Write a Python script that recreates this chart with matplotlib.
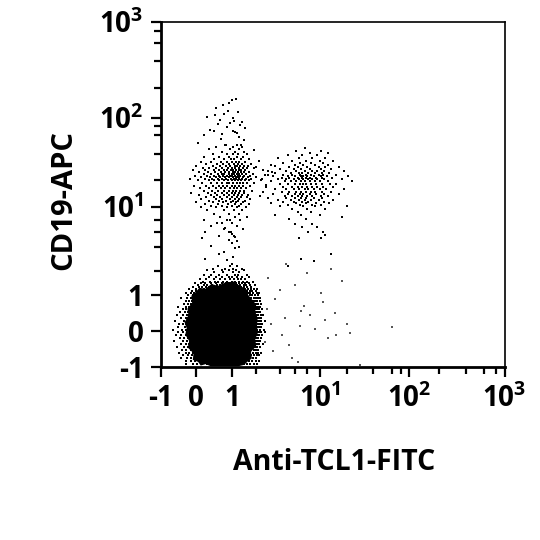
import numpy as np
import matplotlib
matplotlib.use("Agg")
import matplotlib.pyplot as plt

plt.rcParams["font.family"] = ["Open Sans", "DejaVu Sans"]
plt.rcParams["mathtext.fontset"] = "custom"
plt.rcParams["mathtext.bf"] = "Open Sans:bold"
plt.rcParams["mathtext.rm"] = "Open Sans:bold"

# biexponential axis: fluorescence value vs channel along the axis
scale_values = [-1, 0, 1, 2, 4, 6, 8, 10, 20, 40, 60, 80, 100, 200, 400, 600, 800, 1000]
scale_channels = [0, 36, 72, 96, 120, 135, 147, 160, 187, 213, 232, 241, 249, 279, 306, 324, 336, 345]

major_ticks = [-1, 0, 1, 10, 100, 1000]
minor_ticks = [2, 4, 6, 8, 20, 40, 60, 80, 200, 400, 600, 800]
tick_labels = ["-1", "0", "1", r"$\mathbf{10^{1}}$", r"$\mathbf{10^{2}}$", r"$\mathbf{10^{3}}$"]

# solid core of the negative population (outline)
core_x = [0.8, 0.6, 0.42, 0.25, 0.08, -0.02, -0.14, -0.12, -0.25, -0.22, -0.33, -0.27, -0.31, -0.2, -0.24, -0.08, -0.1,
          0.05, 0.12, 0.26, 0.4, 0.8, 1.25, 1.5, 1.62, 1.82, 1.78, 2.0, 1.96, 2.14, 2.06, 2.12, 1.96, 2.0, 1.76, 1.58,
          1.6, 1.32, 1.06]
core_y = [1.52, 1.38, 1.46, 1.26, 1.3, 1.12, 0.98, 0.78, 0.62, 0.44, 0.24, 0.08, -0.1, -0.28, -0.46, -0.62, -0.8,
          -0.86, -0.96, -0.92, -0.98, -0.98, -0.98, -0.94, -0.86, -0.76, -0.58, -0.42, -0.22, -0.05, 0.14, 0.36, 0.54,
          0.74, 0.92, 1.12, 1.24, 1.38, 1.56]

# events are listed row by row: one y value, then the x values seen on that row
# speckle around the core
fringe_rows_y = [2.4, 2.2, 2.05, 1.95, 1.85, 1.75, 1.65, 1.55, 1.48, 1.4, 1.32, 1.24, 1.16, 1.08, 1.0, 0.92, 0.84,
                 0.76, 0.68, 0.6, 0.52, 0.44, 0.36, 0.28, 0.2, 0.12, 0.04, -0.04, -0.12, -0.2, -0.28, -0.36, -0.44,
                 -0.52, -0.6, -0.68, -0.76, -0.84, -0.92]
fringe_rows_x = [
    [0.6, 0.95, 1.2],
    [0.45, 0.8, 1.05, 1.4],
    [0.3, 0.7, 0.9, 1.15, 1.5],
    [0.5, 0.75, 1.02, 1.3],
    [0.2, 0.42, 0.62, 0.85, 1.1, 1.25, 1.6],
    [0.35, 0.55, 0.72, 0.9, 1.0, 1.18, 1.42, 1.7],
    [0.1, 0.28, 0.5, 0.66, 0.8, 0.94, 1.08, 1.22, 1.38, 1.55],
    [0.18, 0.38, 0.52, 0.6, 0.74, 0.86, 0.98, 1.12, 1.28, 1.46, 1.62, 1.85],
    [-0.05, 0.12, 0.25, 0.42, 0.56, 0.7, 0.82, 0.92, 1.04, 1.16, 1.3, 1.4, 1.52, 1.7],
    [0.05, 0.2, 0.3, 0.44, 0.58, 0.66, 0.78, 0.9, 1.0, 1.1, 1.2, 1.34, 1.48, 1.58, 1.74, 1.95],
    [-0.1, 0.08, 0.16, 0.26, 0.36, 0.5, 0.62, 1.14, 1.24, 1.38, 1.5, 1.62, 1.8],
    [-0.2, -0.02, 0.1, 0.2, 0.3, 0.4, 1.3, 1.42, 1.55, 1.66, 1.78, 1.9, 2.1],
    [-0.12, 0.0, 0.08, 0.18, 0.28, 1.4, 1.52, 1.6, 1.72, 1.82, 2.0],
    [-0.3, -0.15, -0.06, 0.02, 0.12, 1.56, 1.66, 1.76, 1.88, 2.05, 2.25],
    [-0.22, -0.1, -0.02, 0.04, 1.6, 1.72, 1.84, 1.94, 2.15],
    [-0.42, -0.25, -0.16, -0.06, 0.0, 1.7, 1.8, 1.9, 2.0, 2.12, 2.35],
    [-0.3, -0.2, -0.12, -0.05, 1.76, 1.86, 1.96, 2.08, 2.28],
    [-0.35, -0.24, -0.16, -0.08, 1.82, 1.92, 2.02, 2.16, 2.42],
    [-0.5, -0.3, -0.2, -0.12, 1.86, 1.96, 2.06, 2.2, 2.34],
    [-0.38, -0.28, -0.18, 1.88, 1.98, 2.1, 2.24, 2.5],
    [-0.46, -0.32, -0.22, 1.9, 2.0, 2.14, 2.3],
    [-0.55, -0.36, -0.26, -0.2, 1.96, 2.04, 2.18, 2.36, 2.6],
    [-0.42, -0.3, -0.22, 1.98, 2.08, 2.22, 2.44],
    [-0.6, -0.34, -0.26, 2.0, 2.1, 2.26, 2.38, 2.7],
    [-0.48, -0.38, -0.28, -0.2, 2.02, 2.12, 2.3, 2.52],
    [-0.52, -0.32, -0.24, 2.0, 2.14, 2.24, 2.42],
    [-0.64, -0.4, -0.3, -0.22, 2.02, 2.1, 2.28, 2.62],
    [-0.5, -0.36, -0.26, 1.98, 2.08, 2.2, 2.36, 2.75],
    [-0.58, -0.42, -0.28, -0.2, 2.0, 2.12, 2.26, 2.48],
    [-0.46, -0.34, -0.24, 1.96, 2.06, 2.18, 2.4],
    [-0.62, -0.38, -0.26, -0.18, 1.9, 2.0, 2.14, 2.3],
    [-0.44, -0.3, -0.2, 1.88, 1.98, 2.1, 2.22, 2.56],
    [-0.54, -0.34, -0.24, -0.14, 1.84, 1.94, 2.08, 2.34],
    [-0.4, -0.28, -0.16, -0.08, 1.8, 1.9, 2.02, 2.18],
    [-0.48, -0.3, -0.2, -0.1, 1.72, 1.86, 1.98, 2.12, 2.4],
    [-0.36, -0.22, -0.12, -0.02, 1.66, 1.78, 1.92, 2.06, 2.26],
    [-0.42, -0.26, -0.14, 0.0, 0.1, 1.5, 1.62, 1.74, 1.88, 2.02],
    [-0.3, -0.16, -0.04, 0.08, 0.2, 1.42, 1.56, 1.7, 1.84, 2.0, 2.2],
    [-0.28, -0.1, 0.02, 0.16, 0.3, 0.42, 1.3, 1.48, 1.6, 1.76, 1.9, 2.08],
]

# CD19+ TCL1- population
left_rows_y = [50, 47.5, 45, 42.5, 40, 38, 36, 34, 32.3, 30.6, 29, 27.5, 26, 24.7, 23.4, 22.2, 21, 19.9, 18.9, 17.9,
               17, 16.1, 15.3, 14.5, 13.7, 13, 12.3, 11.7, 11.1, 10.5, 10, 9.5, 9, 8.5, 8, 7.5, 7, 6.5, 6, 5.5, 5]
left_rows_x = [
    [0.8, 1.2],
    [0.55, 1.05, 1.4],
    [0.35, 0.95, 1.3],
    [0.7, 1.1, 1.5],
    [0.45, 0.85, 1.02, 1.25, 1.6],
    [0.2, 0.62, 0.9, 1.18, 1.44],
    [0.5, 0.78, 0.96, 1.08, 1.35, 1.7],
    [0.12, 0.4, 0.68, 0.86, 1.0, 1.14, 1.28, 1.55],
    [0.28, 0.58, 0.74, 0.92, 1.06, 1.22, 1.4, 1.78],
    [0.0, 0.46, 0.66, 0.82, 0.94, 1.1, 1.2, 1.32, 1.5, 1.66],
    [0.18, 0.36, 0.54, 0.72, 0.88, 1.0, 1.12, 1.26, 1.44, 1.6, 1.9],
    [-0.1, 0.25, 0.48, 0.64, 0.76, 0.84, 0.96, 1.04, 1.16, 1.3, 1.38, 1.54],
    [0.08, 0.32, 0.52, 0.68, 0.8, 0.92, 1.02, 1.1, 1.24, 1.36, 1.48, 1.7],
    [0.2, 0.42, 0.6, 0.7, 0.78, 0.9, 0.98, 1.08, 1.18, 1.28, 1.42, 1.58, 1.85],
    [-0.05, 0.3, 0.5, 0.62, 0.74, 0.86, 0.94, 1.0, 1.12, 1.22, 1.34, 1.5, 1.74],
    [0.14, 0.38, 0.56, 0.66, 0.8, 0.9, 1.04, 1.14, 1.2, 1.3, 1.46, 1.64, 2.0],
    [-0.18, 0.24, 0.44, 0.6, 0.72, 0.82, 0.96, 1.06, 1.16, 1.26, 1.4, 1.56, 1.8],
    [0.05, 0.34, 0.5, 0.64, 0.76, 0.88, 0.98, 1.1, 1.24, 1.38, 1.52, 1.68],
    [0.16, 0.4, 0.58, 0.7, 0.84, 0.92, 1.02, 1.18, 1.32, 1.46, 1.62, 1.92],
    [-0.08, 0.28, 0.46, 0.62, 0.74, 0.86, 1.0, 1.12, 1.28, 1.44, 1.72],
    [0.1, 0.36, 0.54, 0.68, 0.8, 0.94, 1.06, 1.2, 1.36, 1.58],
    [0.22, 0.44, 0.6, 0.76, 0.9, 1.04, 1.16, 1.34, 1.5, 1.82],
    [-0.15, 0.32, 0.52, 0.7, 0.84, 0.98, 1.1, 1.26, 1.48],
    [0.06, 0.4, 0.58, 0.78, 0.92, 1.08, 1.22, 1.42, 1.66],
    [0.26, 0.48, 0.66, 0.86, 1.0, 1.18, 1.38, 1.6],
    [0.14, 0.54, 0.72, 0.94, 1.12, 1.3, 1.76],
    [0.34, 0.62, 0.82, 1.02, 1.24, 1.52],
    [-0.02, 0.46, 0.74, 0.96, 1.16, 1.44],
    [0.24, 0.6, 0.88, 1.1, 1.36, 1.7],
    [0.42, 0.7, 1.0, 1.3],
    [0.12, 0.56, 0.84, 1.2, 1.56],
    [0.3, 0.76, 1.06, 1.42],
    [0.5, 0.92, 1.26],
    [0.66, 1.12, 1.6],
    [0.2, 0.86, 1.34],
    [0.58, 1.0],
    [0.4, 1.18],
    [0.78, 1.46],
    [0.25, 0.96],
    [0.62, 1.08],
    [0.9],
]

# CD19+ TCL1+ population
right_rows_y = [46, 43, 41, 39, 37, 35, 33, 31.3, 29.7, 28.2, 26.8, 25.4, 24.1, 22.9, 21.7, 20.6, 19.5, 18.5, 17.5,
                16.6, 15.7, 14.9, 14.1, 13.4, 12.7, 12, 11.4, 10.8, 10.2, 9.7, 9.2, 8.7, 8.2, 7.4, 6.8, 6, 5.2]
right_rows_x = [
    [7.6],
    [6.2, 10.5],
    [8.4, 13],
    [5, 7.2, 9.6],
    [3.8, 6.6, 8.8, 12],
    [5.6, 7.8, 10, 15],
    [4.4, 6.8, 8.6, 11],
    [3.2, 6, 7.4, 9.2, 13],
    [5.2, 6.4, 8, 9.8, 12, 17],
    [4, 5.8, 7, 8.4, 10.4, 14],
    [3, 4.8, 6.2, 7.6, 8.8, 9.6, 11.5, 19],
    [3.6, 5.4, 6.6, 7.2, 8.2, 9.2, 10.6, 13.5],
    [2.7, 4.4, 5.6, 6.8, 7.8, 8.6, 9.8, 11, 16],
    [3.4, 5, 6, 7, 7.4, 8, 9, 10.2, 12.5, 21],
    [4.2, 5.2, 6.4, 7.2, 7.8, 8.4, 9.4, 10.8, 14.5],
    [2.5, 3.8, 4.8, 5.8, 6.6, 7.4, 8.2, 8.8, 9.6, 11.5, 18],
    [3.2, 4.6, 5.4, 6.2, 7, 7.6, 8.4, 9.2, 10, 12.8, 24],
    [4, 5, 6, 6.8, 7.4, 7.8, 8.6, 9.4, 10.6, 13.8, 16],
    [2.8, 4.4, 5.6, 6.4, 7.2, 8, 8.8, 9.6, 11.2, 15],
    [3.6, 4.8, 5.8, 6.6, 7.6, 8.2, 9, 10, 12.2, 19],
    [2.6, 4.2, 5.2, 6.2, 7, 7.8, 8.6, 9.2, 10.8, 14],
    [3.4, 5, 6, 6.8, 7.4, 8.4, 9.4, 11.4, 17],
    [4.6, 5.6, 6.4, 7.2, 8, 8.8, 10.2, 13],
    [3, 4.8, 6, 7, 7.8, 9, 10.8],
    [3.8, 5.4, 6.6, 7.6, 8.6, 9.8, 15],
    [4.4, 5.8, 7.2, 8.2, 11.6],
    [3.2, 6.2, 7.8, 9.4, 13.5],
    [5, 6.8, 8.8, 10.4],
    [4, 7.4, 9.2, 20],
    [5.6, 8, 11.8],
    [6.4, 8.6],
    [3.6, 7, 10],
    [5.2, 7.8],
    [6, 8.8],
    [7.2, 9.6],
    [8.2, 11],
    [6.6, 10.2],
]

# sparse events above the TCL1- population, between the clusters and below them
sparse_x = [1.15, 0.92, 1.22, 0.55, 0.78, 1.05, 1.4, 0.3, 0.65, 1.32, 0.85, 1.55, 0.48, 1.12, 0.7, 0.98, 0.2, 1.28,
            0.6, 1.48, 0.88, 0.38, 1.02, 0.75, 1.2, 0.05, 0.95, 0.52, 1.35, 0.82, 1.08, 0.68, 0.9, 1.0, 1.1, 0.78,
            2.2, 2.6, 3.0, 2.0, 2.4, 2.8, 3.3, 1.9, 2.3, 3.6, 0.15, 0.4, 0.72, 1.05, 0.94, 0.85, 1.18, 0.62, 1.0,
            0.98, 1.12, 0.8, 1.3, 0.25, 14, 18, 7, 5, 9, 12]
sparse_y = [165, 150, 120, 135, 115, 100, 90, 105, 95, 82, 78, 75, 70, 66, 62, 160, 60, 58, 84, 55, 125, 72, 68, 145,
            64, 52, 88, 110, 50, 50, 92, 56, 6.0, 4.5, 5.4, 3.6, 35, 28, 24, 30, 20, 18, 26, 44, 14, 31, 5.2, 4.2,
            7.5, 3.2, 8.0, 2.9, 4.8, 3.4, 2.6, 5.8, 3.9, 6.6, 4.0, 3.0, 3.4, 8.5, 3.0, 2.4, 2.8, 5.6]

# sparse events right of the negative population
low_x = [2.9, 3.2, 3.6, 4.2, 4.6, 5.2, 6.0, 6.8, 7.5, 8.4, 9.2, 10.5, 12, 14, 16, 18, 20, 22, 30, 60,
         3.4, 4.0, 5.6, 7.0, 11, 3.0, 4.8, 6.4, 13, 15.5, 2.7, 8.0]
low_y = [0.6, 0.2, 0.9, -0.1, 0.35, -0.4, 1.4, 0.15, 0.7, 0.45, 0.05, 1.1, 0.3, 2.2, -0.1, 1.6, 0.2, -0.05, -0.95,
         0.1, -0.55, 1.2, -0.75, 0.55, 0.8, 1.7, 2.6, -0.85, -0.2, 0.5, -0.3, 1.9]


def to_channel(v):
    return np.interp(v, scale_values, scale_channels)


def from_channel(c):
    return np.interp(c, scale_channels, scale_values)


def flatten_rows(rows_y, rows_x):
    xs = []
    ys = []
    for y, row in zip(rows_y, rows_x):
        xs += row
        ys += [y] * len(row)
    return xs, ys


fig = plt.figure(figsize=(5.4, 5.4), dpi=100)
ax = fig.add_axes([160.5 / 540, 173 / 540, 344 / 540, 345 / 540])

ax.set_xscale("function", functions=(to_channel, from_channel))
ax.set_yscale("function", functions=(to_channel, from_channel))
ax.set_xlim(-1, 1000)
ax.set_ylim(-1, 1000)

ax.fill(core_x, core_y, color="black", lw=0, zorder=2)
for rows_y, rows_x in [(fringe_rows_y, fringe_rows_x), (left_rows_y, left_rows_x), (right_rows_y, right_rows_x)]:
    xs, ys = flatten_rows(rows_y, rows_x)
    ax.scatter(xs, ys, s=0.9, c="black", marker="s", linewidths=0, zorder=2)
ax.scatter(sparse_x, sparse_y, s=0.8, c="black", marker="s", linewidths=0, zorder=2)
ax.scatter(low_x, low_y, s=0.8, c="#555555", marker="s", linewidths=0, zorder=2)

for axis in (ax.xaxis, ax.yaxis):
    axis.set_ticks(major_ticks)
    axis.set_ticklabels(tick_labels)
    axis.set_ticks(minor_ticks, minor=True)
    axis.set_minor_formatter(plt.NullFormatter())

ax.tick_params(which="major", length=7.2, width=1.6, labelsize=20, pad=5)
ax.tick_params(which="minor", length=5, width=1.6)
for label in ax.get_xticklabels() + ax.get_yticklabels():
    label.set_fontweight("bold")

ax.spines["left"].set_linewidth(2)
ax.spines["bottom"].set_linewidth(2)
ax.spines["top"].set_linewidth(1.2)
ax.spines["right"].set_linewidth(1.2)

fig.text(334 / 540, 1 - 462 / 540, "Anti-TCL1-FITC", fontsize=20.5, fontweight="bold", ha="center", va="center")
fig.text(64 / 540, 1 - 200 / 540, "CD19-APC", fontsize=21, fontweight="bold", ha="center", va="center", rotation=90)

fig.savefig("out.png", dpi=100)
